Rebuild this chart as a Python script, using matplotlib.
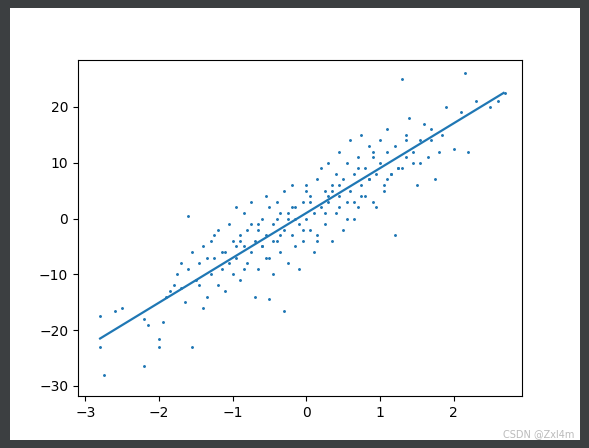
import matplotlib.pyplot as plt

points = [(-2.8,-23),(-2.75,-28),(-2.8,-17.5),(-2.6,-16.5),(-2.5,-16),(-2.2,-26.5),(-2.2,-18),(-2.15,-19),
 (-2.0,-23),(-2.0,-21.5),(-1.95,-18.5),(-1.9,-14),(-1.85,-13),(-1.8,-12),(-1.75,-10),(-1.7,-12.5),(-1.65,-15),
 (-1.6,0.5),(-1.6,-9),(-1.55,-23),(-1.55,-6),(-1.5,-11),(-1.45,-8),(-1.4,-5),(-1.4,-16),(-1.35,-14),(-1.3,-4),
 (-1.3,-10),(-1.25,-7),(-1.2,-12),(-1.2,-2),(-1.15,-9),(-1.1,-6),(-1.1,-13),(-1.05,-1),(-1.0,-4),(-1.0,-10),
 (-0.95,-7),(-0.95,2),(-0.9,-3),(-0.9,-11),(-0.85,-5),(-0.85,1),(-0.8,-8),(-0.8,-2),(-0.75,-6),(-0.75,3),
 (-0.7,-4),(-0.7,-14),(-0.65,-1),(-0.65,-9),(-0.6,0),(-0.6,-5),(-0.55,-3),(-0.55,4),(-0.5,-14.5),(-0.5,-7),
 (-0.5,2),(-0.45,-1),(-0.45,-10),(-0.4,-4),(-0.4,3),(-0.35,-6),(-0.35,1),(-0.3,-16.5),(-0.3,-2),(-0.3,5),
 (-0.25,-8),(-0.25,0),(-0.2,-3),(-0.2,6),(-0.15,-5),(-0.15,2),(-0.1,-1),(-0.1,-9),(-0.05,3),(-0.05,-4),
 (0.0,0),(0.0,6),(0.05,-2),(0.05,4),(0.1,-6),(0.1,1),(0.15,7),(0.15,-3),(0.2,2),(0.2,9),(0.25,-1),(0.25,5),
 (0.3,3),(0.3,10),(0.35,-4),(0.35,6),(0.4,1),(0.4,8),(0.45,4),(0.45,12),(0.5,-2),(0.5,7),(0.55,3),(0.55,10),
 (0.6,5),(0.6,14),(0.65,0),(0.65,8),(0.7,2),(0.7,11),(0.75,6),(0.75,15),(0.8,4),(0.8,9),(0.85,7),(0.85,13),
 (0.9,3),(0.9,11),(0.95,8),(1.0,10),(1.0,14),(1.05,6),(1.1,12),(1.1,16),(1.15,8),(1.2,-3),(1.2,13),(1.25,9),
 (1.3,25),(1.35,11),(1.35,15),(1.4,18),(1.45,12),(1.5,6),(1.55,14),(1.6,17),(1.65,11),(1.7,16),(1.75,7),
 (1.8,12),(1.9,20),(2.0,12.5),(2.1,19),(2.15,26),(2.2,12),(2.3,21),(2.5,20),(2.6,21),(2.7,22.5),
 (-1.7,-8),(-1.45,-12),(-1.25,-3),(-1.05,-8),(-0.85,-9),(-0.65,-2),(-0.45,-4),(-0.25,1),(-0.05,-2),(0.15,-4),
 (0.35,5),(0.55,0),(0.75,4),(0.95,2),(1.15,8),(1.35,14),(1.55,10),(-0.95,-5),(-0.75,-1),(-0.55,-7),(-0.35,-3),
 (-0.15,0),(0.05,3),(0.25,1),(0.45,6),(0.65,3),(0.85,7),(1.05,5),(1.25,9),(-1.15,-6),(-0.6,-5),(-0.2,2),
 (0.3,4),(0.7,9),(1.1,7),(1.45,10),(1.85,15),(-1.35,-7),(-0.9,-4),(-0.4,0),(0.0,5),(0.45,2),(0.9,12),
 (1.3,9),(1.7,14)]
pts_x = [p[0] for p in points]
pts_y = [p[1] for p in points]
line_x = [-2.8, 2.68]
line_y = [-21.5, 22.5]

fig = plt.figure(figsize=(5.89, 4.48), dpi=100, facecolor='#3c3f41')
bg = fig.add_axes([10/589, 8/448, 570/589, 432/448], zorder=0)
bg.set_facecolor('white'); bg.set_xticks([]); bg.set_yticks([])
for s in bg.spines.values():
    s.set_visible(False)
ax = fig.add_axes([78/589, 52/448, 444/589, 336/448], zorder=1)
ax.scatter(pts_x, pts_y, s=1.2, color='#1f77b4')
ax.plot(line_x, line_y, color='#1f77b4', lw=1.6)
ax.set_xlim(-3.1, 2.93)
ax.set_ylim(-31.8, 28.4)
fig.text(0.975, 0.025, 'CSDN @Zxl4m', ha='right', color='#bbbbbb', fontsize=7, zorder=2)
fig.savefig('out.png', dpi=100, facecolor=fig.get_facecolor())
